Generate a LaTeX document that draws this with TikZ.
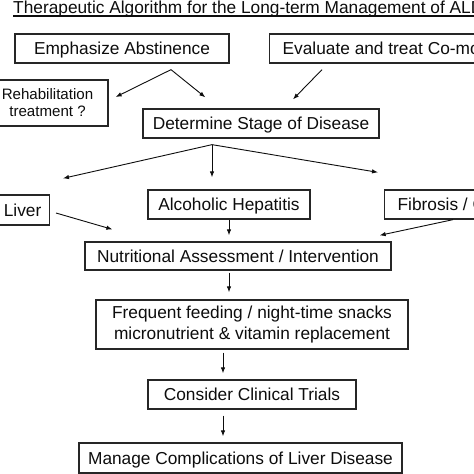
\documentclass[tikz,border=0pt]{standalone}
\usepackage{fontspec}
\setmainfont{Liberation Sans}
\usetikzlibrary{arrows.meta,positioning,calc}
\definecolor{ink}{HTML}{0D0D0D}
\definecolor{frame}{HTML}{262626}
\newcommand{\stagefont}{\fontsize{17.3}{21}\selectfont}
\newcommand{\notefont}{\fontsize{15.1}{17}\selectfont}
\tikzset{
  stage/.style={draw=frame,line width=1.3pt,fill=white,inner xsep=4pt,inner ysep=0pt,align=center,font=\stagefont,text=ink,minimum height=29pt},
  oneline/.style={stage,text height=12.4pt,text depth=0pt},
  flow/.style={-{Latex[length=6pt,width=4.5pt]},line width=0.9pt,draw=ink},
  heading/.style={inner sep=0pt,font=\stagefont,text=ink}
}
\begin{document}
\begin{tikzpicture}[x=1pt,y=-1pt]
  \useasboundingbox (0,0) rectangle (474,474);
  \fill[white] (0,0) rectangle (474,474);
  \clip (0,0) rectangle (474,474);

  \node[heading,anchor=base west] (title) at (13,13.5) {Therapeutic Algorithm for the Long-term Management of ALD};
  \draw[line width=1.3pt,ink] ($(title.base west)+(0,2.6)$) -- ($(title.base east)+(0,2.6)$);

  \node[oneline,minimum width=214pt] (emph) at (122,48.5) {Emphasize Abstinence};
  \node[oneline,anchor=west,inner xsep=13pt] (eval) at (269,48.5) {Evaluate and treat Co-morbidities};
  \node[stage,minimum width=121pt,minimum height=46pt,font=\notefont] (rehab) at (47.5,103) {Rehabilitation\\treatment ?};
  \node[oneline,minimum width=236pt] (determine) at (261,123.5) {Determine Stage of Disease};

  \node[oneline,anchor=east,inner xsep=8pt,minimum height=30pt] (liver) at (50,210) {Fatty Liver};
  \node[oneline,minimum width=162pt] (hepatitis) at (229,204.5) {Alcoholic Hepatitis};
  \node[oneline,anchor=west,inner xsep=13pt] (fibrosis) at (384,204.5) {Fibrosis / Cirrhosis};

  \node[oneline,minimum width=306pt,minimum height=28pt] (nutrition) at (238,256) {Nutritional Assessment / Intervention};
  \node[stage,minimum width=312pt,minimum height=49pt] (feeding) at (252,324.5) {Frequent feeding / night-time snacks\\micronutrient \& vitamin replacement};
  \node[oneline,minimum width=208pt] (trials) at (252,394.5) {Consider Clinical Trials};
  \node[oneline,minimum width=323pt,minimum height=30pt] (complications) at (240.5,458) {Manage Complications of Liver Disease};

  \coordinate (fork1) at ($(emph.south)+(49,6)$);
  \coordinate (fork2) at ($(eval.south west)+(53,6)$);
  \coordinate (fork3) at ($(determine.south)+(-49,6)$);

  \draw[flow] (fork1) -- ($(rehab.east)+(7,-6)$);
  \draw[flow] (fork1) -- ($(determine.north west)+(63,-11)$);
  \draw[flow] (fork2) -- ($(determine.north)+(32,-9)$);
  \draw[flow] (fork3) -- ($(liver.north east)+(13,-16)$);
  \draw[flow] (fork3) -- ($(hepatitis.north)+(-17,-12)$);
  \draw[flow] (fork3) -- ($(fibrosis.north west)+(-6,-17)$);
  \draw[flow] ($(liver.east)+(6,3)$) -- ($(nutrition.north west)+(28,-12)$);
  \draw[flow] (hepatitis.south) -- ($(nutrition.north)+(-9,-6)$);
  \draw[flow] ($(fibrosis.south west)+(69,0)$) -- ($(nutrition.north east)+(-12,-6)$);
  \draw[flow] ($(nutrition.south)+(-9,2)$) -- ($(feeding.north)+(-23,-7)$);
  \draw[flow] ($(feeding.south)+(-29,3)$) -- ($(trials.north)+(-29,-6)$);
  \draw[flow] ($(trials.south)+(-29,6)$) -- ($(complications.north)+(-17.5,-6)$);
\end{tikzpicture}
\end{document}
